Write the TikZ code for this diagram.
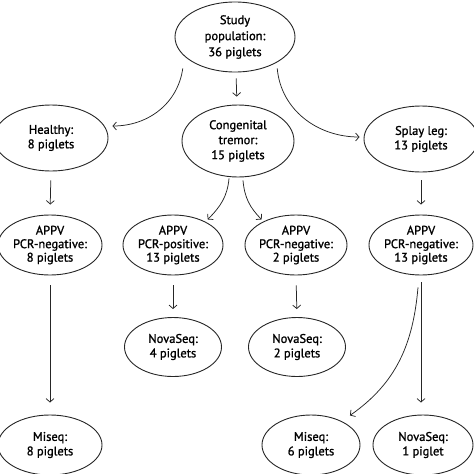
\documentclass[tikz,border=0pt]{standalone}
\usepackage{fontspec}
\setmainfont[FakeBold=1.3]{PT Sans}
\usetikzlibrary{arrows.meta, calc, shapes.geometric}

\begin{document}
\begin{tikzpicture}[x=1pt, y=-1pt, >={Straight Barb[length=3.5pt,width=8pt]},
    group/.style={ellipse, draw=black!85, line width=0.9pt, inner sep=-8pt, align=center,
        font=\fontsize{12.5}{14.5}\selectfont},
    link/.style={->, draw=black!85, line width=0.75pt}]

\useasboundingbox (0,0) rectangle (474,474);

% Top of the tree
    \node [group, minimum width=120, minimum height=70, font=\fontsize{12.5}{16}\selectfont] (study) at (235,37) {Study\\population:\\36 piglets};

    % Clinical groups
    \node [group, minimum width=114, minimum height=66] (healthy) at (51,138) {Healthy:\\8 piglets};
    \node [group, minimum width=112, minimum height=72, font=\fontsize{12.5}{15}\selectfont] (tremor) at (238,141) {Congenital\\tremor:\\15 piglets};
    \node [group, minimum width=114, minimum height=66] (splay) at (421,139) {Splay leg:\\13 piglets};

    % APPV status
    \node [group, minimum width=104, minimum height=60, font=\fontsize{12.5}{13.5}\selectfont] (negH) at (50,245) {APPV\\PCR-negative:\\8 piglets};
    \node [group, minimum width=100, minimum height=60, font=\fontsize{12.5}{13.5}\selectfont] (posT) at (173,245) {APPV\\PCR-positive:\\13 piglets};
    \node [group, minimum width=102, minimum height=60, font=\fontsize{12.5}{13.5}\selectfont] (negT) at (296,245) {APPV\\PCR-negative:\\2 piglets};
    \node [group, minimum width=104, minimum height=60, font=\fontsize{12.5}{13.5}\selectfont] (negS) at (421,245) {APPV\\PCR-negative:\\13 piglets};

    % Sequencing
    \node [group, minimum width=97, minimum height=59] (novaP) at (173,347) {NovaSeq:\\4 piglets};
    \node [group, minimum width=97, minimum height=59] (novaN) at (297,347) {NovaSeq:\\2 piglets};
    \node [group, minimum width=104, minimum height=60] (miH) at (50,445) {Miseq:\\8 piglets};
    \node [group, minimum width=98, minimum height=60] (miS) at (311,445) {Miseq:\\6 piglets};
    \node [group, minimum width=100, minimum height=60] (novaS) at (423,445) {NovaSeq:\\1 piglet};

% Arrows out of the study population
    \draw [link] ($(study.211)+(-10,6)$) to[out=-98, in=0] ($(healthy.east)+(4,-12)$);
    \draw [link, shorten <=6pt, shorten >=8pt] (study) -- (tremor);
    \draw [link] ($(study.-31)+(0,6)$) to[out=-85, in=180] ($(splay.west)+(-4,-2)$);

    \draw [link, shorten <=9pt, shorten >=10pt] (healthy.south) -- (negH.north);
    \draw [link, shorten <=8pt, shorten >=10pt] (splay.south) -- (negS.north);
    \draw [link] ($(tremor.south)+(-9,1)$) to[out=-95, in=45] ($(posT.north east)+(-1,-4)$);
    \draw [link] ($(tremor.south)+(5,3)$) to[out=-85, in=135] ($(negT.north west)+(2,-4)$);

    \draw [link, shorten <=10pt, shorten >=8pt] (posT.south) -- (novaP.north);
    \draw [link, shorten <=10pt, shorten >=8pt] (negT.south) -- (novaN.north);
    \draw [link, shorten <=10pt, shorten >=12pt] (negH.south) -- (miH.north);
    \draw [link] ($(negS.south)+(-3,12)$) to[out=-95, in=35] ($(miS.north east)+(4,-8)$);
    \draw [link, shorten <=7pt, shorten >=12pt] (negS.south) -- (negS.south |- novaS.north);

\end{tikzpicture}
\end{document}
